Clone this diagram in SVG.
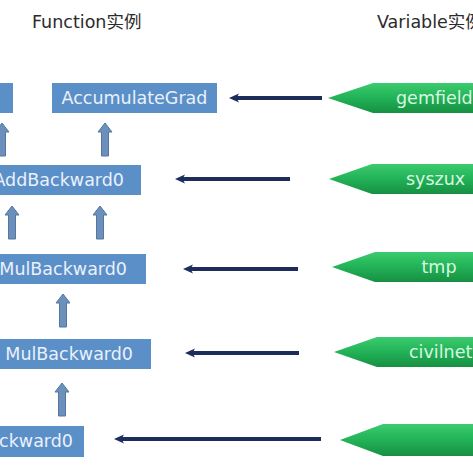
<svg xmlns="http://www.w3.org/2000/svg" width="473" height="473" viewBox="0 0 473 473">
<defs>
<linearGradient id="g" x1="0" y1="0" x2="0" y2="1">
<stop offset="0" stop-color="#3ccb6e"/>
<stop offset="0.5" stop-color="#22b257"/>
<stop offset="1" stop-color="#178f42"/>
</linearGradient>
<marker id="ah" markerWidth="11" markerHeight="11" refX="3" refY="5" orient="auto" markerUnits="userSpaceOnUse">
<path d="M0,0.5 L10,5 L0,9.5 L2.5,5 Z" fill="#1c2d5c"/>
</marker>
<path id="up" d="M-3.5,0 L-3.5,-24 L-7,-24 L0,-33 L7,-24 L3.5,-24 L3.5,0 Z" fill="#6b90bb" stroke="#55779f" stroke-width="1"/>
</defs>
<style>
.t{font-family:"DejaVu Sans","Noto Sans CJK SC",sans-serif;font-size:17.5px}
.title{fill:#2b2b2b}
.box{fill:#5b8fc8}
.bt{fill:#eaf1fb}
.gt{fill:#d9f7e0}
.var{fill:url(#g)}
.con{stroke:#1c2d5c;stroke-width:4;fill:none}
</style>
<rect width="473" height="473" fill="#ffffff"/>
<text class="t title" x="32" y="28">Function实例</text>
<text class="t title" x="377" y="28">Variable实例</text>

<g id="f1a"><rect class="box" x="-5" y="83" width="18" height="30"/></g>
<g id="f1b"><rect class="box" x="52" y="83" width="165" height="30"/><text class="t bt" x="134.5" y="104" text-anchor="middle">AccumulateGrad</text></g>
<g id="f2"><rect class="box" x="-5" y="165" width="146" height="30"/><text class="t bt" x="124" y="186" text-anchor="end">AddBackward0</text></g>
<g id="f3"><rect class="box" x="-5" y="254" width="151" height="30"/><text class="t bt" x="127" y="275" text-anchor="end">MulBackward0</text></g>
<g id="f4"><rect class="box" x="-5" y="339" width="156" height="30"/><text class="t bt" x="133" y="360" text-anchor="end">MulBackward0</text></g>
<g id="f5"><rect class="box" x="-5" y="426" width="89" height="31"/><text class="t bt" x="73" y="447" text-anchor="end">ckward0</text></g>

<g id="v1"><path class="var" d="M328,98 L373,83 L480,83 L480,113 L373,113 Z"/><text class="t gt" x="396" y="104">gemfield</text></g>
<g id="v2"><path class="var" d="M329,179 L372,164 L480,164 L480,194 L372,194 Z"/><text class="t gt" x="406" y="185">syszux</text></g>
<g id="v3"><path class="var" d="M332,267 L375,252 L480,252 L480,282 L375,282 Z"/><text class="t gt" x="439" y="273" text-anchor="middle">tmp</text></g>
<g id="v4"><path class="var" d="M334,352 L377,337 L480,337 L480,367 L377,367 Z"/><text class="t gt" x="409" y="358">civilnet</text></g>
<g id="v5"><path class="var" d="M340,440 L383,424 L480,424 L480,456 L383,456 Z"/></g>

<g id="connectors">
<line class="con" x1="322" y1="98" x2="236" y2="98" marker-end="url(#ah)"/>
<line class="con" x1="290" y1="179" x2="182" y2="179" marker-end="url(#ah)"/>
<line class="con" x1="298" y1="269" x2="190" y2="269" marker-end="url(#ah)"/>
<line class="con" x1="299" y1="353" x2="192" y2="353" marker-end="url(#ah)"/>
<line class="con" x1="321" y1="439" x2="121" y2="439" marker-end="url(#ah)"/>
<use href="#up" x="2" y="156"/>
<use href="#up" x="105" y="156"/>
<use href="#up" x="12" y="239"/>
<use href="#up" x="100" y="239"/>
<use href="#up" x="63" y="327"/>
<use href="#up" x="62" y="416"/>
</g>
</svg>
